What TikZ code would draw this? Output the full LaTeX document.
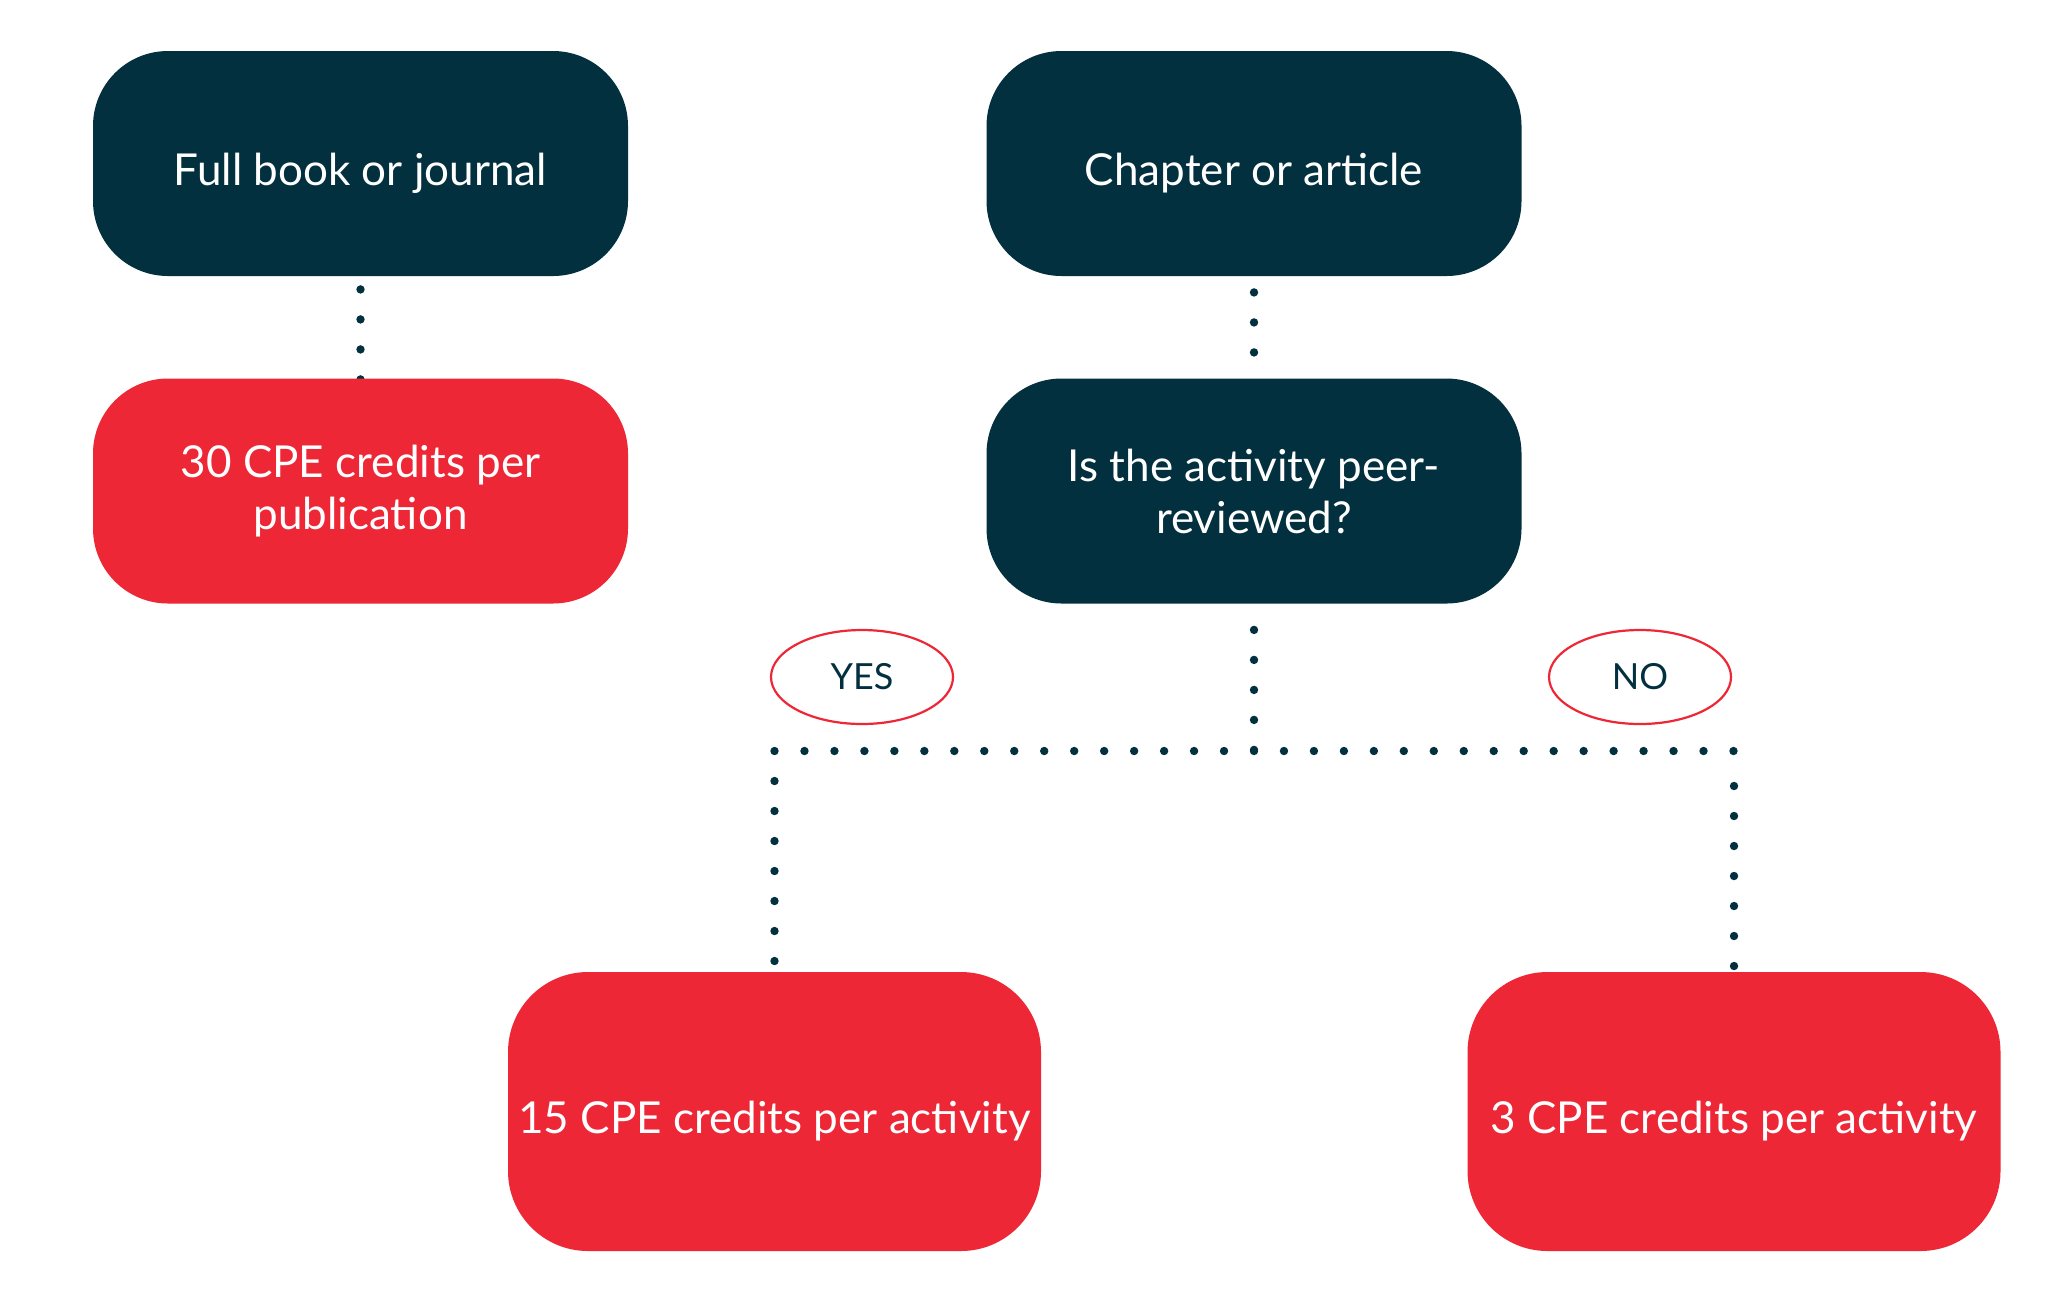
\documentclass[tikz,border=0pt]{standalone}
\usepackage{fontspec}
\setmainfont{Lato}
\usetikzlibrary{shapes.geometric,calc}
\pgfdeclarelayer{bg}
\pgfsetlayers{bg,main}
\definecolor{navy}{HTML}{03303E}
\definecolor{cred}{HTML}{EE2737}
\tikzset{
  box/.style={rectangle, rounded corners=37.5pt, minimum width=267.5pt, minimum height=112.5pt, inner sep=0pt},
  darkbox/.style={box, fill=navy},
  redbox/.style={box, fill=cred},
  bigbox/.style={minimum width=266.5pt, minimum height=139.5pt, rounded corners=40pt},
  lbl/.style={inner sep=0pt, text=white, font=\fontsize{22}{26}\selectfont, align=center},
  tag/.style={ellipse, draw=cred, line width=1.1pt, minimum width=91pt, minimum height=47pt, text=navy, font=\fontsize{18}{22}\selectfont, inner sep=0pt},
  dotline/.style={draw=navy, line width=4.2pt, line cap=round, dash pattern=on 0pt off 15pt},
  hdotline/.style={dotline, dash pattern=on 0pt off 14.984pt}
}
\begin{document}
\begin{tikzpicture}[x=0.5pt,y=-0.5pt]
\begin{pgfonlayer}{bg}
\fill[white] (0,0) rectangle (2048,1303);
\end{pgfonlayer}
\useasboundingbox (0,0) rectangle (2048,1303);
\node[darkbox] (full) at (360.5,163.5) {};
\node[darkbox] (chap) at (1254,163.5) {};
\node[redbox] (thirty) at (360.5,491) {};
\node[darkbox] (peer) at (1254,491) {};
\node[redbox,bigbox] (fifteen) at (774.5,1111.5) {};
\node[redbox,bigbox] (three) at (1734,1111.5) {};
\node[lbl] (fullt) at ($(full.center)+(0,10)$) {Full book or journal};
\node[lbl] (chapt) at ($(chap.center)+(0,10)$) {Chapter or article};
\node[lbl] (thirtyt) at ($(thirty.center)+(0,0)$) {30 CPE credits per\\publication};
\node[lbl] (peert) at ($(peer.center)+(0,0)$) {Is the activity peer-\\reviewed?};
\node[lbl] (fifteent) at ($(fifteen.center)+(0,10)$) {15 CPE credits per activity};
\node[lbl] (threet) at ($(three.center)+(0,10)$) {3 CPE credits per activity};
\node[tag] (yes) at (862,677) {YES};
\node[tag] (no) at (1640,677) {NO};
\coordinate (jm) at (1254,751);
\coordinate (jl) at (774.5,751);
\coordinate (jr) at (1734,751);
\begin{pgfonlayer}{bg}
\path[dotline] (full.south) ++(0,13) -- ($(thirty.north)+(0,4)$);
\path[dotline] (chap.south) ++(0,16) -- (peer.north);
\path[dotline] (peer.south) ++(0,26) -- (jm);
\path[hdotline] (jl) -- (jr);
\path[dotline] (jl) ++(0,30) -- ($(fifteen.north)+(0,-10)$);
\path[dotline] (jr) ++(0,35) -- (three.north);
\end{pgfonlayer}
\end{tikzpicture}
\end{document}
